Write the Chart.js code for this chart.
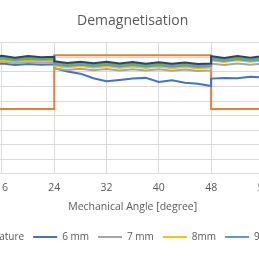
<!DOCTYPE html>
<html>
<head>
<meta charset="utf-8">
<script src="https://cdn.jsdelivr.net/npm/chart.js@4.4.1/dist/chart.umd.min.js"></script>
<style>
  html, body { margin: 0; padding: 0; background: #fff; overflow: hidden; width: 259px; height: 259px; }
  #wrap { position: absolute; left: -120px; top: 0; width: 596px; height: 259px; }
</style>
</head>
<body>
<div id="wrap"><canvas id="demag" width="596" height="259"></canvas></div>
<script>
// mechanical angle samples (repeated angle = step change of the temperature)
const angles = [0, 2, 4, 6, 8, 10, 12, 14, 16, 18, 20, 22, 24,
  24, 26, 28, 30, 32, 34, 36, 38, 40, 42, 44, 46, 48,
  48, 50, 52, 54, 56, 58, 60, 62, 64, 66, 68, 70, 72];

const temperature = [89, 89, 89, 89, 89, 89, 89, 89, 89, 89, 89, 89, 89,
  163, 163, 163, 163, 163, 163, 163, 163, 163, 163, 163, 163, 163,
  89, 89, 89, 89, 89, 89, 89, 89, 89, 89, 89, 89, 89];

const mm6 = [1.513, 1.494, 1.515, 1.497, 1.511, 1.493, 1.514, 1.498, 1.516, 1.495, 1.510, 1.499, 1.505,
  1.452, 1.405, 1.376, 1.312, 1.272, 1.290, 1.310, 1.318, 1.262, 1.285, 1.250, 1.238, 1.205,
  1.308, 1.318, 1.312, 1.333, 1.324, 1.320, 1.334, 1.322, 1.333, 1.319, 1.331, 1.321, 1.327];
const mm7 = [1.540, 1.521, 1.542, 1.524, 1.538, 1.520, 1.541, 1.525, 1.543, 1.522, 1.537, 1.526, 1.532,
  1.446, 1.427, 1.443, 1.424, 1.440, 1.421, 1.438, 1.419, 1.435, 1.417, 1.432, 1.414, 1.421,
  1.514, 1.495, 1.517, 1.498, 1.515, 1.494, 1.516, 1.499, 1.518, 1.496, 1.513, 1.500, 1.506];
const mm8 = [1.562, 1.541, 1.564, 1.544, 1.560, 1.540, 1.563, 1.545, 1.565, 1.542, 1.559, 1.546, 1.553,
  1.483, 1.461, 1.480, 1.458, 1.477, 1.455, 1.475, 1.453, 1.472, 1.451, 1.469, 1.448, 1.459,
  1.556, 1.535, 1.559, 1.538, 1.557, 1.534, 1.558, 1.539, 1.560, 1.536, 1.555, 1.540, 1.547];
const mm9 = [1.582, 1.561, 1.584, 1.564, 1.580, 1.560, 1.583, 1.565, 1.585, 1.562, 1.579, 1.566, 1.573,
  1.503, 1.481, 1.500, 1.478, 1.497, 1.475, 1.495, 1.473, 1.492, 1.471, 1.489, 1.468, 1.479,
  1.570, 1.549, 1.573, 1.552, 1.571, 1.548, 1.572, 1.553, 1.574, 1.550, 1.569, 1.554, 1.561];
const mm10 = [1.598, 1.575, 1.600, 1.578, 1.596, 1.574, 1.599, 1.579, 1.601, 1.576, 1.595, 1.580, 1.588,
  1.524, 1.502, 1.521, 1.499, 1.518, 1.496, 1.516, 1.494, 1.513, 1.492, 1.510, 1.489, 1.500,
  1.592, 1.569, 1.595, 1.572, 1.593, 1.568, 1.594, 1.573, 1.596, 1.570, 1.591, 1.574, 1.582];
const mm11 = [1.620, 1.595, 1.622, 1.598, 1.618, 1.594, 1.621, 1.600, 1.623, 1.596, 1.617, 1.601, 1.609,
  1.545, 1.522, 1.541, 1.518, 1.538, 1.515, 1.536, 1.513, 1.533, 1.511, 1.530, 1.508, 1.516,
  1.616, 1.592, 1.619, 1.595, 1.617, 1.591, 1.618, 1.596, 1.620, 1.593, 1.615, 1.597, 1.605];

const seriesNames = ["Temperature", "6 mm", "7 mm", "8mm", "9 mm", "10 mm", "11 mm"];
const seriesValues = [temperature, mm6, mm7, mm8, mm9, mm10, mm11];
const seriesColors = ["#ED7D31", "#4472C4", "#A5A5A5", "#FFC000", "#5B9BD5", "#70AD47", "#264478"];

const textColor = "#595959";
const gridColor = "#D9D9D9";
const font = "'Open Sans', sans-serif";

const datasets = seriesNames.map((name, i) => ({
  label: name,
  data: angles.map((a, j) => ({ x: a, y: seriesValues[i][j] })),
  borderColor: seriesColors[i],
  backgroundColor: seriesColors[i],
  borderWidth: 2,
  pointRadius: 0,
  tension: 0,
  fill: false,
  yAxisID: i === 0 ? "y1" : "y",
  order: seriesNames.length - i // later series on top, like the spreadsheet
}));

new Chart(document.getElementById("demag"), {
  type: "line",
  data: { datasets: datasets },
  options: {
    responsive: false,
    animation: false,
    layout: { padding: { left: 10, right: 10, top: 0, bottom: 7 } },
    plugins: {
      tooltip: { enabled: false },
      title: {
        display: true,
        fullSize: false,
        text: "Demagnetisation",
        color: textColor,
        font: { family: font, size: 14, weight: "normal" },
        padding: { top: 13, bottom: 13 }
      },
      legend: {
        position: "bottom",
        labels: {
          color: textColor,
          font: { family: font, size: 10 },
          boxWidth: 24,
          boxHeight: 2,
          padding: 9,
          sort: (a, b) => a.datasetIndex - b.datasetIndex,
          generateLabels(chart) {
            const items = Chart.defaults.plugins.legend.labels.generateLabels(chart);
            items.forEach(it => { it.fillStyle = it.strokeStyle; it.lineWidth = 0; });
            return items;
          }
        }
      }
    },
    scales: {
      x: {
        type: "linear",
        min: 0,
        max: 72,
        ticks: { stepSize: 8, color: textColor, padding: 8, font: { family: font, size: 10.5 } },
        grid: { color: gridColor, drawTicks: false },
        border: { color: gridColor },
        title: {
          display: true,
          text: "Mechanical Angle [degree]",
          color: textColor,
          font: { family: font, size: 10.5 },
          padding: { top: -2, bottom: 10 }
        }
      },
      y: {
        min: 0,
        max: 1.8,
        ticks: { display: false, stepSize: 0.2 },
        grid: { color: gridColor, drawTicks: false },
        border: { display: false },
        afterFit: scale => { scale.width = 7.4; }
      },
      y1: {
        position: "right",
        min: 0,
        max: 180,
        ticks: { display: false },
        grid: { display: false, drawTicks: false },
        border: { display: false },
        afterFit: scale => { scale.width = 98; }
      }
    }
  }
});
</script>
</body>
</html>
